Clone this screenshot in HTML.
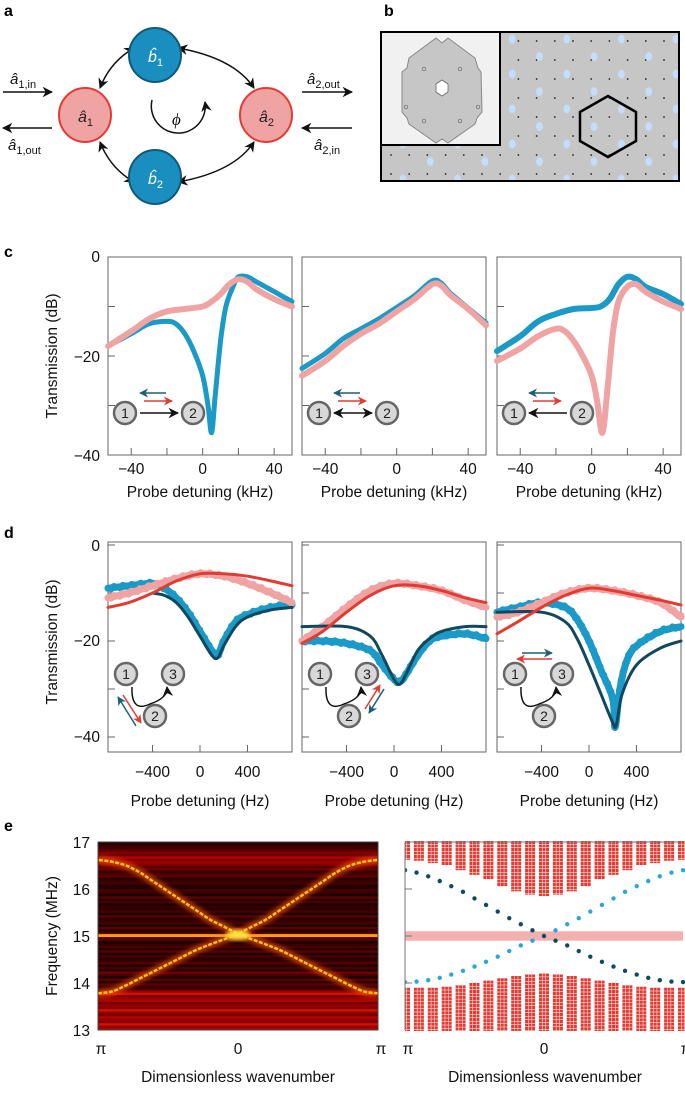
<!DOCTYPE html>
<html><head><meta charset="utf-8"><style>
html,body{margin:0;padding:0;background:#fff}
svg{display:block;font-family:"Liberation Sans",sans-serif}
.t{font-size:15.5px;fill:#111}
.pl{font-size:16px;font-weight:bold;fill:#000}
</style></head><body>
<svg id="fig" width="685" height="1114" viewBox="0 0 685 1114" xmlns="http://www.w3.org/2000/svg">
<defs>
<marker id="mk" viewBox="0 0 10 10" refX="9" refY="5" markerWidth="7" markerHeight="7" orient="auto-start-reverse"><path d="M0,0 L10,5 L0,10 L3,5 z" fill="#111"/></marker>
<marker id="mr" viewBox="0 0 10 10" refX="9" refY="5" markerWidth="6" markerHeight="6" orient="auto-start-reverse"><path d="M0,0 L10,5 L0,10 L3,5 z" fill="#e23b33"/></marker>
<marker id="mb" viewBox="0 0 10 10" refX="9" refY="5" markerWidth="6" markerHeight="6" orient="auto-start-reverse"><path d="M0,0 L10,5 L0,10 L3,5 z" fill="#1d5f78"/></marker>
<filter id="glow" x="-5%" y="-20%" width="110%" height="140%"><feGaussianBlur stdDeviation="2"/></filter>
<clipPath id="clipHeat"><rect x="98" y="842" width="280" height="188"/></clipPath>
<clipPath id="clipDisp"><rect x="405" y="838" width="280" height="194"/></clipPath>
<clipPath id="clipLat"><rect x="381" y="32" width="298" height="149"/></clipPath>
</defs>

<text class="pl" x="4" y="16">a</text>
<text class="pl" x="384" y="16">b</text>
<text class="pl" x="4" y="257">c</text>
<text class="pl" x="4" y="538">d</text>
<text class="pl" x="4" y="831">e</text>

<g>
<path d="M100,88 Q110,62 134,48" fill="none" stroke="#111" stroke-width="1.5" marker-start="url(#mk)" marker-end="url(#mk)"/>
<path d="M178,48 Q234,58 254,88" fill="none" stroke="#111" stroke-width="1.5" marker-start="url(#mk)" marker-end="url(#mk)"/>
<path d="M100,142 Q110,168 134,182" fill="none" stroke="#111" stroke-width="1.5" marker-start="url(#mk)" marker-end="url(#mk)"/>
<path d="M178,182 Q234,172 254,142" fill="none" stroke="#111" stroke-width="1.5" marker-start="url(#mk)" marker-end="url(#mk)"/>
<path d="M152,100 A27,27 0 1 0 205,102" fill="none" stroke="#111" stroke-width="1.5" marker-end="url(#mk)"/>
<text x="172" y="125" font-size="17" font-style="italic" fill="#111" font-family="Liberation Serif,serif">ϕ</text>
<ellipse cx="85" cy="115" rx="26" ry="27" fill="#f0a3a3" stroke="#e23b33" stroke-width="2"/>
<text x="78" y="122" font-size="16" font-style="italic" fill="#222">â<tspan font-size="11" font-style="normal" dy="4">1</tspan></text>
<ellipse cx="155" cy="55" rx="26" ry="27" fill="#1a8fbf" stroke="#0e5a78" stroke-width="2"/>
<text x="148" y="62" font-size="16" font-style="italic" fill="#fff">b̂<tspan font-size="11" font-style="normal" dy="4">1</tspan></text>
<ellipse cx="155" cy="177" rx="26" ry="27" fill="#1a8fbf" stroke="#0e5a78" stroke-width="2"/>
<text x="148" y="184" font-size="16" font-style="italic" fill="#fff">b̂<tspan font-size="11" font-style="normal" dy="4">2</tspan></text>
<ellipse cx="266" cy="115" rx="26" ry="27" fill="#f0a3a3" stroke="#e23b33" stroke-width="2"/>
<text x="259" y="122" font-size="16" font-style="italic" fill="#222">â<tspan font-size="11" font-style="normal" dy="4">2</tspan></text>
<line x1="3" y1="92" x2="52" y2="92" stroke="#111" stroke-width="1.5" marker-end="url(#mk)"/>
<line x1="52" y1="128" x2="3" y2="128" stroke="#111" stroke-width="1.5" marker-end="url(#mk)"/>
<line x1="302" y1="92" x2="352" y2="92" stroke="#111" stroke-width="1.5" marker-end="url(#mk)"/>
<line x1="352" y1="128" x2="302" y2="128" stroke="#111" stroke-width="1.5" marker-end="url(#mk)"/>
<text x="10" y="84" font-size="15" font-style="italic" fill="#111">â<tspan font-size="11" font-style="normal" dy="4">1,in</tspan></text>
<text x="8" y="150" font-size="15" font-style="italic" fill="#111">â<tspan font-size="11" font-style="normal" dy="4">1,out</tspan></text>
<text x="307" y="84" font-size="15" font-style="italic" fill="#111">â<tspan font-size="11" font-style="normal" dy="4">2,out</tspan></text>
<text x="314" y="150" font-size="15" font-style="italic" fill="#111">â<tspan font-size="11" font-style="normal" dy="4">2,in</tspan></text>
</g>

<g id="panelB">
<rect x="381" y="32" width="298" height="149" fill="#c6c6c6"/>
</g>

<g id="panelC">
<text class="t" transform="translate(57,356) rotate(-90)" text-anchor="middle">Transmission (dB)</text>
<text class="t" x="100" y="262" text-anchor="end">0</text>
<text class="t" x="100" y="362" text-anchor="end">−20</text>
<text class="t" x="100" y="461" text-anchor="end">−40</text>
</g>
<g id="panelD">
<text class="t" transform="translate(57,642) rotate(-90)" text-anchor="middle">Transmission (dB)</text>
<text class="t" x="100" y="551" text-anchor="end">0</text>
<text class="t" x="100" y="646" text-anchor="end">−20</text>
<text class="t" x="100" y="742" text-anchor="end">−40</text>
</g>
<g id="panelE">
<text class="t" transform="translate(57,936) rotate(-90)" text-anchor="middle">Frequency (MHz)</text>
<text class="t" x="238" y="1082" text-anchor="middle">Dimensionless wavenumber</text>
<text class="t" x="545" y="1082" text-anchor="middle">Dimensionless wavenumber</text>
</g>
</svg>
<script>
const NS='http://www.w3.org/2000/svg';
const svg=document.getElementById('fig');
function mk(tag,attrs,parent){const e=document.createElementNS(NS,tag);for(const k in attrs)e.setAttribute(k,attrs[k]);(parent||svg).appendChild(e);return e;}
function smooth(p){if(p.length<2)return'';let d='M'+p[0][0].toFixed(1)+','+p[0][1].toFixed(1);for(let i=0;i<p.length-1;i++){const p0=p[i-1]||p[i],p1=p[i],p2=p[i+1],p3=p[i+2]||p2;const c1=[p1[0]+(p2[0]-p0[0])/6,p1[1]+(p2[1]-p0[1])/6],c2=[p2[0]-(p3[0]-p1[0])/6,p2[1]-(p3[1]-p1[1])/6];d+='C'+c1[0].toFixed(1)+','+c1[1].toFixed(1)+' '+c2[0].toFixed(1)+','+c2[1].toFixed(1)+' '+p2[0].toFixed(1)+','+p2[1].toFixed(1);}return d;}

/* ---------- panel c data ---------- */
const cTickX=[-40,0,40];
const cMinorX=[-40,-20,0,20,40];
const c1BlueX=[-53,-40,-30,-20,-15,-10,-5,0,3,5,7,10,13,17,20,25,30,40,50];
const c1BlueY=[-18,-15.5,-13.5,-13,-13.5,-15.5,-19,-24,-30,-35.5,-28,-17,-10,-6,-4,-4,-5,-7,-9];
const c1PinkX=[-53,-40,-30,-20,-10,0,5,10,15,20,25,30,40,50];
const c1PinkY=[-18,-15,-12.5,-11,-10.5,-10,-9,-7.5,-5.5,-4.5,-5,-6.5,-8.5,-10];
const c2BlueX=[-53,-40,-30,-20,-10,0,10,20,25,30,40,50];
const c2BlueY=[-22.5,-19.5,-16.5,-14.5,-12.5,-10.2,-7.8,-4.8,-5.3,-7.3,-10.3,-13.3];
const c2PinkX=[-53,-40,-30,-20,-10,0,10,20,25,30,40,50];
const c2PinkY=[-24,-21,-18,-15.5,-13.5,-11,-8.5,-5.5,-5.8,-7.7,-10.5,-13.8];
const c3BlueX=[-53,-40,-30,-20,-10,0,5,10,15,20,25,30,40,50];
const c3BlueY=[-19,-16,-13,-11.5,-10.5,-10.3,-10,-8.5,-5.5,-4,-4.5,-6,-7.5,-9.5];
const c3PinkX=[-53,-40,-30,-20,-15,-10,-5,0,3,6,9,12,15,20,25,30,40,50];
const c3PinkY=[-21,-18.5,-16,-14.5,-15,-17,-20,-24,-29,-35.5,-26,-15,-9,-6,-5.5,-7,-9,-10.5];

/* ---------- panel d data ---------- */
const dTickX=[-400,0,400];
const d1PinkX=[-775,-600,-400,-200,0,200,400,600,775];
const d1PinkY=[-11,-10,-8.5,-7,-6,-6.5,-8,-10,-12];
const d1FitRX=[-775,-600,-400,-200,0,200,400,600,775];
const d1FitRY=[-13,-12,-10,-7.5,-6,-6,-6.5,-7.5,-8.5];
const d1BlueX=[-775,-600,-400,-300,-200,-100,0,100,150,200,300,400,600,775];
const d1BlueY=[-9,-8.5,-8,-9,-11,-14,-18,-22,-23,-20,-16,-14.5,-13,-12.5];
const d1FitBX=[-400,-300,-200,-100,0,100,150,200,300,400,600,775];
const d1FitBY=[-10,-10.5,-12,-15,-19,-23,-23.5,-21,-17,-15,-13.5,-13];
const d2PinkX=[-775,-600,-400,-200,0,200,400,600,775];
const d2PinkY=[-20,-17,-13,-9.5,-8,-8.5,-9.5,-11.5,-13];
const d2FitRX=[-775,-600,-400,-200,0,200,400,600,775];
const d2FitRY=[-20.5,-18,-14,-10.5,-8.5,-8.5,-9.5,-11,-12];
const d2BlueX=[-775,-600,-400,-200,-100,0,50,100,200,300,400,600,775];
const d2BlueY=[-20,-20,-20.5,-22,-25,-28,-28.5,-27,-23,-20,-19,-18.5,-19.5];
const d2FitBX=[-775,-400,-200,-100,0,50,100,200,300,400,600,775];
const d2FitBY=[-17,-17,-19,-23,-28,-29,-27,-22,-19.5,-18,-17,-17];
const d3PinkX=[-775,-600,-400,-200,0,200,400,600,775];
const d3PinkY=[-15,-14,-12,-10,-9,-9.5,-10.5,-12,-15];
const d3FitRX=[-775,-600,-400,-200,0,200,400,600,775];
const d3FitRY=[-18.5,-16,-13,-10.5,-9,-9.5,-10.5,-11.5,-12.5];
const d3BlueX=[-775,-600,-400,-200,-100,0,100,200,220,260,320,400,600,775];
const d3BlueY=[-14,-13,-12,-13,-15.5,-20,-26,-32,-38,-30,-24,-21,-18,-17];
const d3FitBX=[-775,-400,-200,-100,0,100,200,230,280,400,600,775];
const d3FitBY=[-14,-14,-16,-19.5,-25,-31,-37,-37.5,-31,-25,-21.5,-20];

/* ---------- panel e data ---------- */
const eFreqTicks=[17,16,15,14,13];
const heatRows=[0.55,0.5,0.6,0.45,0.5,0.55,0.4,0.5,0.6,0.45,0.5,0.4,0.55,0.5,0.45,0.6,
0.5,0.3,0.25,0.35,
0.2,0.35,0.15,0.3,0.4,0.2,0.3,0.15,0.35,0.25,0.2,0.3,0.15,0.35,0.2,0.3,0.25,0.15,0.35,0.3,
0.9,
0.3,0.2,0.35,0.15,0.3,0.25,0.2,0.35,0.15,0.3,0.2,0.25,0.15,0.3,0.2,0.35,0.15,0.25,0.3,0.2,0.15,0.3,0.25,0.2,0.35,0.3,0.25,0.4,0.35,0.45,
0.5,0.45,0.55,0.4,0.45,0.35,0.3,0.25,0.2];
const heatK=[-1,-0.9,-0.8,-0.7,-0.6,-0.5,-0.4,-0.3,-0.2,-0.1,0,0.1,0.2,0.3,0.4,0.5,0.6,0.7,0.8,0.9,1];
const heatBranch=[13.78,13.82,13.95,14.1,14.25,14.4,14.55,14.7,14.82,14.93,15.05,15.2,15.35,15.55,15.75,15.95,16.15,16.35,16.5,16.58,16.62];
const dispK=[-1,-0.917,-0.833,-0.75,-0.667,-0.583,-0.5,-0.417,-0.333,-0.25,-0.167,-0.083,0,0.083,0.167,0.25,0.333,0.417,0.5,0.583,0.667,0.75,0.833,0.917,1];
const edgeLight=[14.02,14.03,14.06,14.11,14.18,14.26,14.35,14.45,14.56,14.68,14.8,14.9,15.0,15.12,15.25,15.38,15.52,15.66,15.8,15.94,16.06,16.17,16.27,16.35,16.4];
const edgeDark=[16.4,16.35,16.27,16.17,16.06,15.94,15.8,15.66,15.52,15.38,15.25,15.12,15.0,14.9,14.8,14.68,14.56,14.45,14.35,14.26,14.18,14.11,14.06,14.03,14.02];
const bulkK=[-1,-0.9,-0.8,-0.7,-0.6,-0.5,-0.4,-0.3,-0.2,-0.1,0,0.1,0.2,0.3,0.4,0.5,0.6,0.7,0.8,0.9,1];
const upperEdge=[16.62,16.6,16.55,16.5,16.4,16.3,16.2,16.05,15.95,15.88,15.85,15.88,15.95,16.05,16.2,16.3,16.4,16.5,16.55,16.6,16.62];
const lowerEdge=[13.9,13.9,13.9,13.92,13.95,14.0,14.05,14.1,14.15,14.18,14.2,14.18,14.15,14.1,14.05,14.0,13.95,13.92,13.9,13.9,13.9];
const flatBand=15.0;

/* ---------- panel b lattice ---------- */
(function(){
  const g0=document.getElementById('panelB');
  const g=mk('g',{'clip-path':'url(#clipLat)'},g0);
  
  
  for(let j=0;j<8;j++)for(let i=0;i<17;i++){
    const c=mk('circle',{cx:391+i*18.2,cy:41+j*19,r:0.9,fill:'#222'},g);
    
    
  }
  for(let j=0;j<9;j++)for(let i=-1;i<7;i++){
    const x=390+i*54.6+(j%2)*27.3+13, y=39+j*17.5;
    const c=mk('ellipse',{cx:x,cy:y,rx:3.4,ry:4.4,fill:'#c5dcfa'},g);
    
    
  }
  const ins=mk('rect',{x:381,y:32,width:119,height:113,fill:'#f1f1f1',stroke:'#000','stroke-width':2},g0);
  
  
  const poly=mk('polygon',{points:'436,38 442,43 448,38 475,58 478,68 481,72 482,112 477,118 475,124 448,143 442,139 436,143 409,124 407,118 402,112 402,72 407,68 409,58',fill:'#c6c6c6',stroke:'#888','stroke-width':1},g0);
  
  
  const hole=mk('polygon',{points:'442,80 448,84 448,92 442,96 436,92 436,84',fill:'#fff',stroke:'#666','stroke-width':0.8},g0);
  
  
  [[424,69],[460,69],[406,107],[478,107],[424,121],[460,121]].forEach(p=>{
    const c=mk('circle',{cx:p[0],cy:p[1],r:1.8,fill:'none',stroke:'#666','stroke-width':0.7},g0);
    
    
  });
  const border=mk('rect',{x:381,y:32,width:298,height:149,fill:'none',stroke:'#000','stroke-width':2},g0);
  
  
  const hex=mk('polygon',{points:'608,96 636,112 636,141 608,157 580,141 580,112',fill:'none',stroke:'#000','stroke-width':2.5},g0);
  
  
})();

function node(g,x,y,label){
  const c=mk('circle',{cx:x,cy:y,r:11,fill:'#d8d8d8',stroke:'#666','stroke-width':2.5},g);
  
  
  const t=mk('text',{x:x,y:y+5,'text-anchor':'middle','font-size':14,fill:'#222'},g);
  t.textContent=label;
  
  
}
function arrow(g,x1,y1,x2,y2,col,mkr,both,name){
  const a={x1:x1,y1:y1,x2:x2,y2:y2,stroke:col,'stroke-width':1.5,'marker-end':'url(#'+mkr+')'};
  if(both)a['marker-start']='url(#'+mkr+')';
  const l=mk('line',a,g);
  
  
}
function series(g,xs,ys,sx,sy,col,w,name,dots){
  const pts=xs.map((v,i)=>[sx(v),sy(ys[i])]);
  const p=mk('path',{d:smooth(pts),fill:'none',stroke:col,'stroke-width':w,'stroke-linecap':'round','stroke-linejoin':'round'},g);
  
  
  if(dots){const len=p.getTotalLength();for(let s=0;s<=len;s+=3){const q=p.getPointAtLength(s);const c=mk('circle',{cx:q.x,cy:q.y+Math.sin(s*0.7)*1.2,r:w/2,fill:col},g);
    
    }}
}

/* ---------- panel c ---------- */
(function(){
  const g=document.getElementById('panelC');
  const lefts=[108,302,497],W=184,top=257,bot=455;
  const sy=v=>top+(0-v)/40*(bot-top);
  const data=[[c1BlueX,c1BlueY,c1PinkX,c1PinkY],[c2BlueX,c2BlueY,c2PinkX,c2PinkY],[c3BlueX,c3BlueY,c3PinkX,c3PinkY]];
  lefts.forEach((L,pi)=>{
    const sx=v=>L+(v+53)/103*W;
    const box=mk('rect',{x:L,y:top,width:W,height:bot-top,fill:'none',stroke:'#666','stroke-width':1},g);
    
    
    [-10,-20,-30].forEach(v=>{const t=mk('line',{x1:L,x2:L+7,y1:sy(v),y2:sy(v),stroke:'#666'},g);
      
      });
    cMinorX.forEach(v=>{const t=mk('line',{x1:sx(v),x2:sx(v),y1:bot,y2:bot-7,stroke:'#666'},g);
      
      });
    cTickX.forEach(v=>{const t=mk('text',{x:sx(v),y:474,'text-anchor':'middle',class:'t'},g);t.textContent=v<0?'−'+(-v):String(v);
      
      });
    const xl=mk('text',{x:L+W/2,y:497,'text-anchor':'middle',class:'t'},g);xl.textContent='Probe detuning (kHz)';
    
    
    const d=data[pi];
    if(pi===2){series(g,d[0],d[1],sx,sy,'#1b9ac8',6,'c-forward-transmission-'+(pi+1));series(g,d[2],d[3],sx,sy,'#f0a3a3',6,'c-backward-transmission-'+(pi+1));}
    else{series(g,d[0],d[1],sx,sy,'#1b9ac8',5,'c-backward-transmission-'+(pi+1));series(g,d[2],d[3],sx,sy,'#f0a3a3',6,'c-forward-transmission-'+(pi+1));}
    const cx=L;
    arrow(g,cx+58,393,cx+32,393,'#1d5f78','mb',false,'c-inset-backward-arrow');
    arrow(g,cx+36,401,cx+64,401,'#e23b33','mr',false,'c-inset-forward-arrow');
    node(g,cx+17,413,'1');node(g,cx+85,413,'2');
    if(pi===0)arrow(g,cx+32,413,cx+70,413,'#111','mk',false,'c-inset-coupling');
    if(pi===1)arrow(g,cx+32,413,cx+70,413,'#111','mk',true,'c-inset-coupling');
    if(pi===2)arrow(g,cx+70,413,cx+32,413,'#111','mk',false,'c-inset-coupling');
  });
})();

/* ---------- panel d ---------- */
(function(){
  const g=document.getElementById('panelD');
  const lefts=[108,302,497],W=184,top=542,bot=752;
  const sy=v=>545+(0-v)/40*192;
  const data=[[d1BlueX,d1BlueY,d1FitBX,d1FitBY,d1PinkX,d1PinkY,d1FitRX,d1FitRY],
              [d2BlueX,d2BlueY,d2FitBX,d2FitBY,d2PinkX,d2PinkY,d2FitRX,d2FitRY],
              [d3BlueX,d3BlueY,d3FitBX,d3FitBY,d3PinkX,d3PinkY,d3FitRX,d3FitRY]];
  lefts.forEach((L,pi)=>{
    const sx=v=>L+(v+775)/1550*W;
    const box=mk('rect',{x:L,y:top,width:W,height:bot-top,fill:'none',stroke:'#666','stroke-width':1},g);
    
    
    [0,-10,-20,-30,-40].forEach(v=>{const t=mk('line',{x1:L,x2:L+7,y1:sy(v),y2:sy(v),stroke:'#666'},g);
      
      });
    dTickX.forEach(v=>{const t=mk('line',{x1:sx(v),x2:sx(v),y1:bot,y2:bot-7,stroke:'#666'},g);
      
      
      const l=mk('text',{x:sx(v),y:777,'text-anchor':'middle',class:'t'},g);l.textContent=v<0?'−'+(-v):String(v);
      
      });
    const xl=mk('text',{x:L+W/2,y:806,'text-anchor':'middle',class:'t'},g);xl.textContent='Probe detuning (Hz)';
    
    
    const d=data[pi];
    series(g,d[0],d[1],sx,sy,'#1b9ac8',7,'d-data-blue-'+(pi+1),true);
    series(g,d[4],d[5],sx,sy,'#f0a3a3',7,'d-data-pink-'+(pi+1),true);
    series(g,d[2],d[3],sx,sy,'#11485e',3,'d-fit-dark-'+(pi+1));
    series(g,d[6],d[7],sx,sy,'#e23b33',3,'d-fit-red-'+(pi+1));
    const n1=[L+18,674],n3=[L+65,674],n2=[L+47,716];
    const cur=mk('path',{d:`M${n1[0]+6},${n1[1]+13} Q${n1[0]+5},${n2[1]-3} ${n1[0]+24},${n2[1]-12} Q${n1[0]+42},${n2[1]-18} ${n3[0]-6},${n3[1]+13}`,fill:'none',stroke:'#111','stroke-width':1.5,'marker-end':'url(#mk)'},g);
    
    
    node(g,n1[0],n1[1],'1');node(g,n3[0],n3[1],'3');node(g,n2[0],n2[1],'2');
    if(pi===0){arrow(g,L+28,726,L+10,697,'#1d5f78','mb',false,'d-inset-backward-arrow');arrow(g,L+15,695,L+33,723,'#e23b33','mr',false,'d-inset-forward-arrow');}
    if(pi===1){arrow(g,L+63,709,L+78,685,'#e23b33','mr',false,'d-inset-forward-arrow');arrow(g,L+82,689,L+67,713,'#1d5f78','mb',false,'d-inset-backward-arrow');}
    if(pi===2){arrow(g,L+25,653,L+55,653,'#1d5f78','mb',false,'d-inset-backward-arrow');arrow(g,L+55,659,L+20,659,'#e23b33','mr',false,'d-inset-forward-arrow');}
  });
})();

/* ---------- panel e ---------- */
(function(){
  const g=document.getElementById('panelE');
  const top=842,bot=1030;
  const sy=f=>top+(17-f)/4*(bot-top);
  eFreqTicks.forEach(f=>{const t=mk('text',{x:90,y:sy(f)+6,'text-anchor':'end',class:'t'},g);t.textContent=String(f);
    
    });
  const hL=98,hW=280;const sxh=k=>hL+(k+1)/2*hW;
  const hg=mk('g',{'clip-path':'url(#clipHeat)'},g);
  
  
  const bg=mk('rect',{x:hL,y:top,width:hW,height:bot-top,fill:'#0e0000'},hg);
  
  
  heatRows.forEach((v,i)=>{
    const f=13+i*0.05;
    const r=Math.round(Math.min(1,Math.pow(v*1.6,1.5))*235),gg=Math.round(Math.max(0,v-0.55)*2*220);
    const rc=mk('rect',{x:hL,y:sy(f+0.05),width:hW,height:(bot-top)/80+0.3,fill:`rgb(${r},${gg},0)`,opacity:0.9},hg);
    
    
  });
  const ptsA=heatK.map((k,i)=>[sxh(k),sy(heatBranch[i])]);
  const ptsB=heatK.map((k,i)=>[sxh(-k),sy(heatBranch[i])]);
  [ptsA,ptsB].forEach((pts,j)=>{
    const o=mk('path',{d:smooth(pts),fill:'none',stroke:'#ff5a00','stroke-width':8,opacity:0.6,filter:'url(#glow)'},hg);
    
    
    const p=mk('path',{d:smooth(pts),fill:'none',stroke:'#ffc21a','stroke-width':2.5,'stroke-dasharray':'4 1.5'},hg);
    
    
  });
  const hl=mk('rect',{x:hL,y:sy(15.03),width:hW,height:2.5,fill:'#ff9a20'},hg);
  
  
  const ctr=mk('ellipse',{cx:sxh(0),cy:sy(15.02),rx:12,ry:5,fill:'#ffe040',filter:'url(#glow)'},hg);
  
  
  const hb=mk('rect',{x:hL,y:top,width:hW,height:bot-top,fill:'none',stroke:'#444','stroke-width':1},g);
  
  
  const dL=405,dW=278;const sxd=k=>dL+(k+1)/2*dW;
  const dg=mk('g',{'clip-path':'url(#clipDisp)'},g);
  
  
  const fb=mk('rect',{x:dL,y:sy(flatBand+0.1),width:dW,height:sy(flatBand-0.1)-sy(flatBand+0.1),fill:'#f4b0b0'},dg);
  
  
  bulkK.forEach((k,i)=>{
    [-3.5,0,3.5].forEach(off=>{
      const x=sxd(k)+off;
      const u=mk('line',{x1:x,x2:x,y1:sy(17.02),y2:sy(upperEdge[i]),stroke:'#e23b33','stroke-width':3,'stroke-dasharray':'3 0.5'},dg);
      
      
      const l=mk('line',{x1:x,x2:x,y1:sy(lowerEdge[i]),y2:sy(12.98),stroke:'#e23b33','stroke-width':3,'stroke-dasharray':'3 0.5'},dg);
      
      
    });
  });
  dispK.forEach((k,i)=>{
    const a=mk('circle',{cx:sxd(k),cy:sy(edgeLight[i]),r:2.2,fill:'#27a8d6'},dg);
    
    
    const b=mk('circle',{cx:sxd(k),cy:sy(edgeDark[i]),r:2.2,fill:'#0f4b60'},dg);
    
    
  });
  const ax=mk('path',{d:`M${dL},${top} L${dL},${bot} M${dL},${top} L${dL+dW},${top}`,fill:'none',stroke:'#777','stroke-width':1},g);
  
  
  [16,15,14].forEach(f=>{const t=mk('line',{x1:dL,x2:dL+7,y1:sy(f),y2:sy(f),stroke:'#777'},g);
    
    });
  [[hL,'π'],[hL+hW/2,'0'],[hL+hW,'π'],[dL,'π'],[dL+dW/2,'0'],[dL+dW,'π']].forEach(p=>{
    const t=mk('text',{x:p[0]+(p[1]==='π'?3:0),y:1054,'text-anchor':'middle',class:'t'},g);t.textContent=p[1];
    
    });
})();
</script>
</body></html>
